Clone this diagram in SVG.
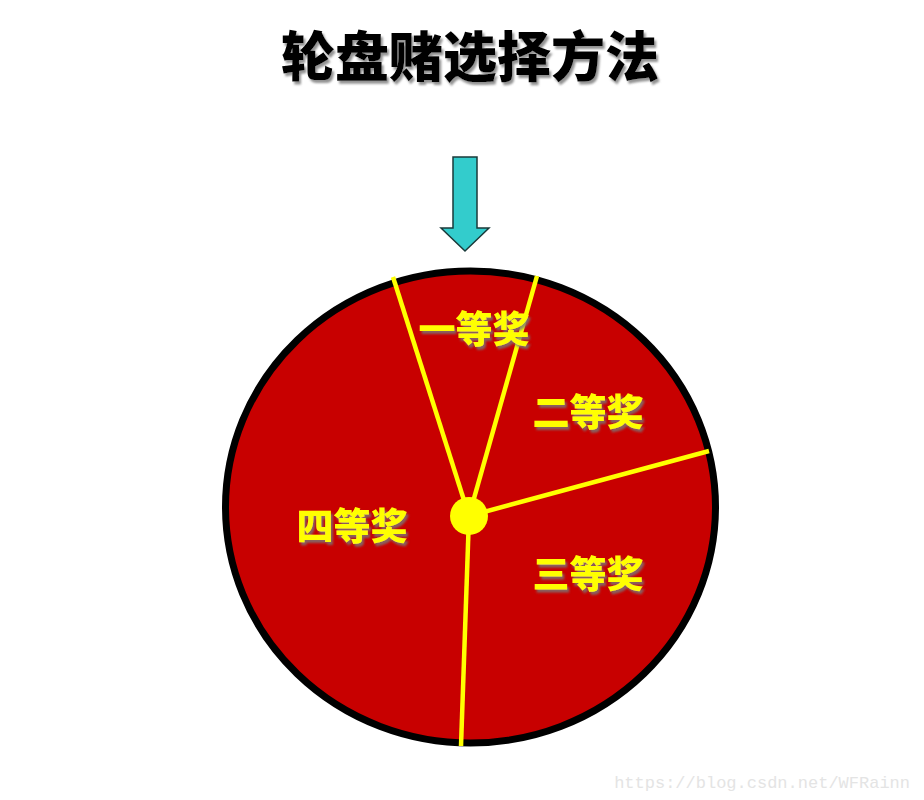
<svg xmlns="http://www.w3.org/2000/svg" width="924" height="800" viewBox="0 0 924 800">
<defs>
<filter id="sh" x="-10%" y="-10%" width="130%" height="140%">
<feDropShadow dx="2" dy="3" stdDeviation="1.2" flood-color="#777" flood-opacity="0.8"/>
</filter>
</defs>
<style>
.lbl{font-family:"Noto Sans CJK SC","Liberation Sans",sans-serif;font-weight:900;font-size:37px;fill:#FFFF00;text-anchor:middle;filter:url(#sh)}
.div{stroke:#FFFF00;stroke-width:4.5;fill:none}
</style>
<rect width="924" height="800" fill="#fff"/>
<text x="470" y="77" font-family="'Noto Sans CJK SC',sans-serif" font-weight="900" font-size="54" text-anchor="middle" fill="#000" filter="url(#sh)">轮盘赌选择方法</text>
<g id="pointer">
<path d="M453,157 H477 V228 H489 L465,251 L441,228 H453 Z" fill="#33CCCC" stroke="#1a3a3a" stroke-width="1.5"/>
</g>
<g id="wheel">
<ellipse cx="470.5" cy="507" rx="245" ry="236" fill="#C80000" stroke="#000" stroke-width="7"/>
</g>
<g id="connectors">
<line class="div" x1="469" y1="516" x2="393" y2="277"/>
<line class="div" x1="469" y1="516" x2="537" y2="276"/>
<line class="div" x1="469" y1="516" x2="709" y2="451"/>
<line class="div" x1="469" y1="516" x2="461" y2="746"/>
</g>
<g id="hub"><circle cx="469" cy="516" r="19" fill="#FFFF00"/></g>
<g id="prize1"><text class="lbl" x="474" y="343">一等奖</text></g>
<g id="prize2"><text class="lbl" x="588" y="426">二等奖</text></g>
<g id="prize3"><text class="lbl" x="588" y="588">三等奖</text></g>
<g id="prize4"><text class="lbl" x="352" y="540">四等奖</text></g>
<text x="910" y="788" font-family="'Liberation Mono',monospace" font-size="17" fill="#e4e4e4" text-anchor="end">https://blog.csdn.net/WFRainn</text>
</svg>
